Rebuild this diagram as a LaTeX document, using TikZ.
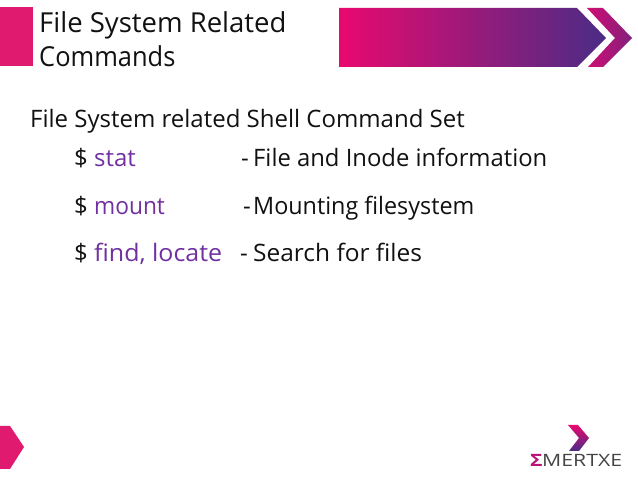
\documentclass[tikz,border=0pt]{standalone}
\usepackage{graphicx}
\usepackage{fontspec}
\setmainfont{Open Sans}
\newfontfamily\logofont[FakeStretch=1.25]{Open Sans}
\definecolor{pinkA}{HTML}{E8096F}
\definecolor{pinkB}{HTML}{DF1A6F}
\definecolor{purpA}{HTML}{4A2C85}
\definecolor{cmd}{HTML}{7030A0}
\definecolor{ink}{HTML}{111111}
\definecolor{logoink}{HTML}{444444}
\tikzset{
  titletext/.style={anchor=base west,inner sep=0pt,text=ink,font=\fontsize{27.5}{32}\selectfont},
  bodytext/.style={anchor=base west,inner sep=0pt,text=ink,font=\fontsize{24}{28}\selectfont},
  cmdtext/.style={bodytext,text=cmd},
}
\begin{document}
\begin{tikzpicture}[x=1pt,y=-1pt]
\useasboundingbox (0,0) rectangle (638,478);
\fill[pinkB] (0,7) rectangle (33,66);
\shade[left color=pinkA,right color=purpA] (339,8) -- (577,8) -- (606,38) -- (577,67) -- (339,67) -- cycle;
\shade[left color=pinkA!85!purpA,right color=purpA!65!pinkA] (587,8) -- (603,8) -- (632,38) -- (603,67) -- (588,67) -- (615,38) -- cycle;
\fill[pinkB] (0,426) -- (10,426) -- (24,447) -- (10,469) -- (0,469) -- cycle;
\shade[top color=pinkA,bottom color=purpA] (568,425) -- (578,425) -- (589,438) -- (579,451) -- (569,451) -- (579,438) -- cycle;
\node[titletext] (t1) at (39,33) {File System Related};
\node[titletext] (t2) at (39,67) {\scalebox{.925}[1]{Commands}};
\node[bodytext] (h) at (30,128) {File System related Shell Command Set};
\node[bodytext] (d1) at (74,167) {\$};
\node[cmdtext] (c1) at (94,167) {stat};
\node[bodytext] (m1) at (241,167) {-};
\node[bodytext] (e1) at (253,167) {\scalebox{.993}[1]{File and Inode information}};
\node[bodytext] (d2) at (74,215) {\$};
\node[cmdtext] (c2) at (94,215) {\scalebox{.947}[1]{mount}};
\node[bodytext] (m2) at (243,215) {-};
\node[bodytext] (e2) at (253,215) {\scalebox{.973}[1]{Mounting filesystem}};
\node[bodytext] (d3) at (74,262) {\$};
\node[cmdtext] (c3) at (94,262) {\scalebox{1.04}[1]{find, locate}};
\node[bodytext] (m3) at (240,262) {-};
\node[bodytext] (e3) at (253,262) {\scalebox{1.02}[1]{Search for files}};
\node[anchor=base west,inner sep=0pt,text=pinkA!70!purpA,font=\logofont\fontsize{17}{20}\selectfont\bfseries] (sig) at (530,467) {Σ};
\node[anchor=base west,inner sep=0pt,text=logoink,font=\logofont\fontsize{17}{20}\selectfont] (logo) at (542,467) {MERTXE};
\end{tikzpicture}
\end{document}
